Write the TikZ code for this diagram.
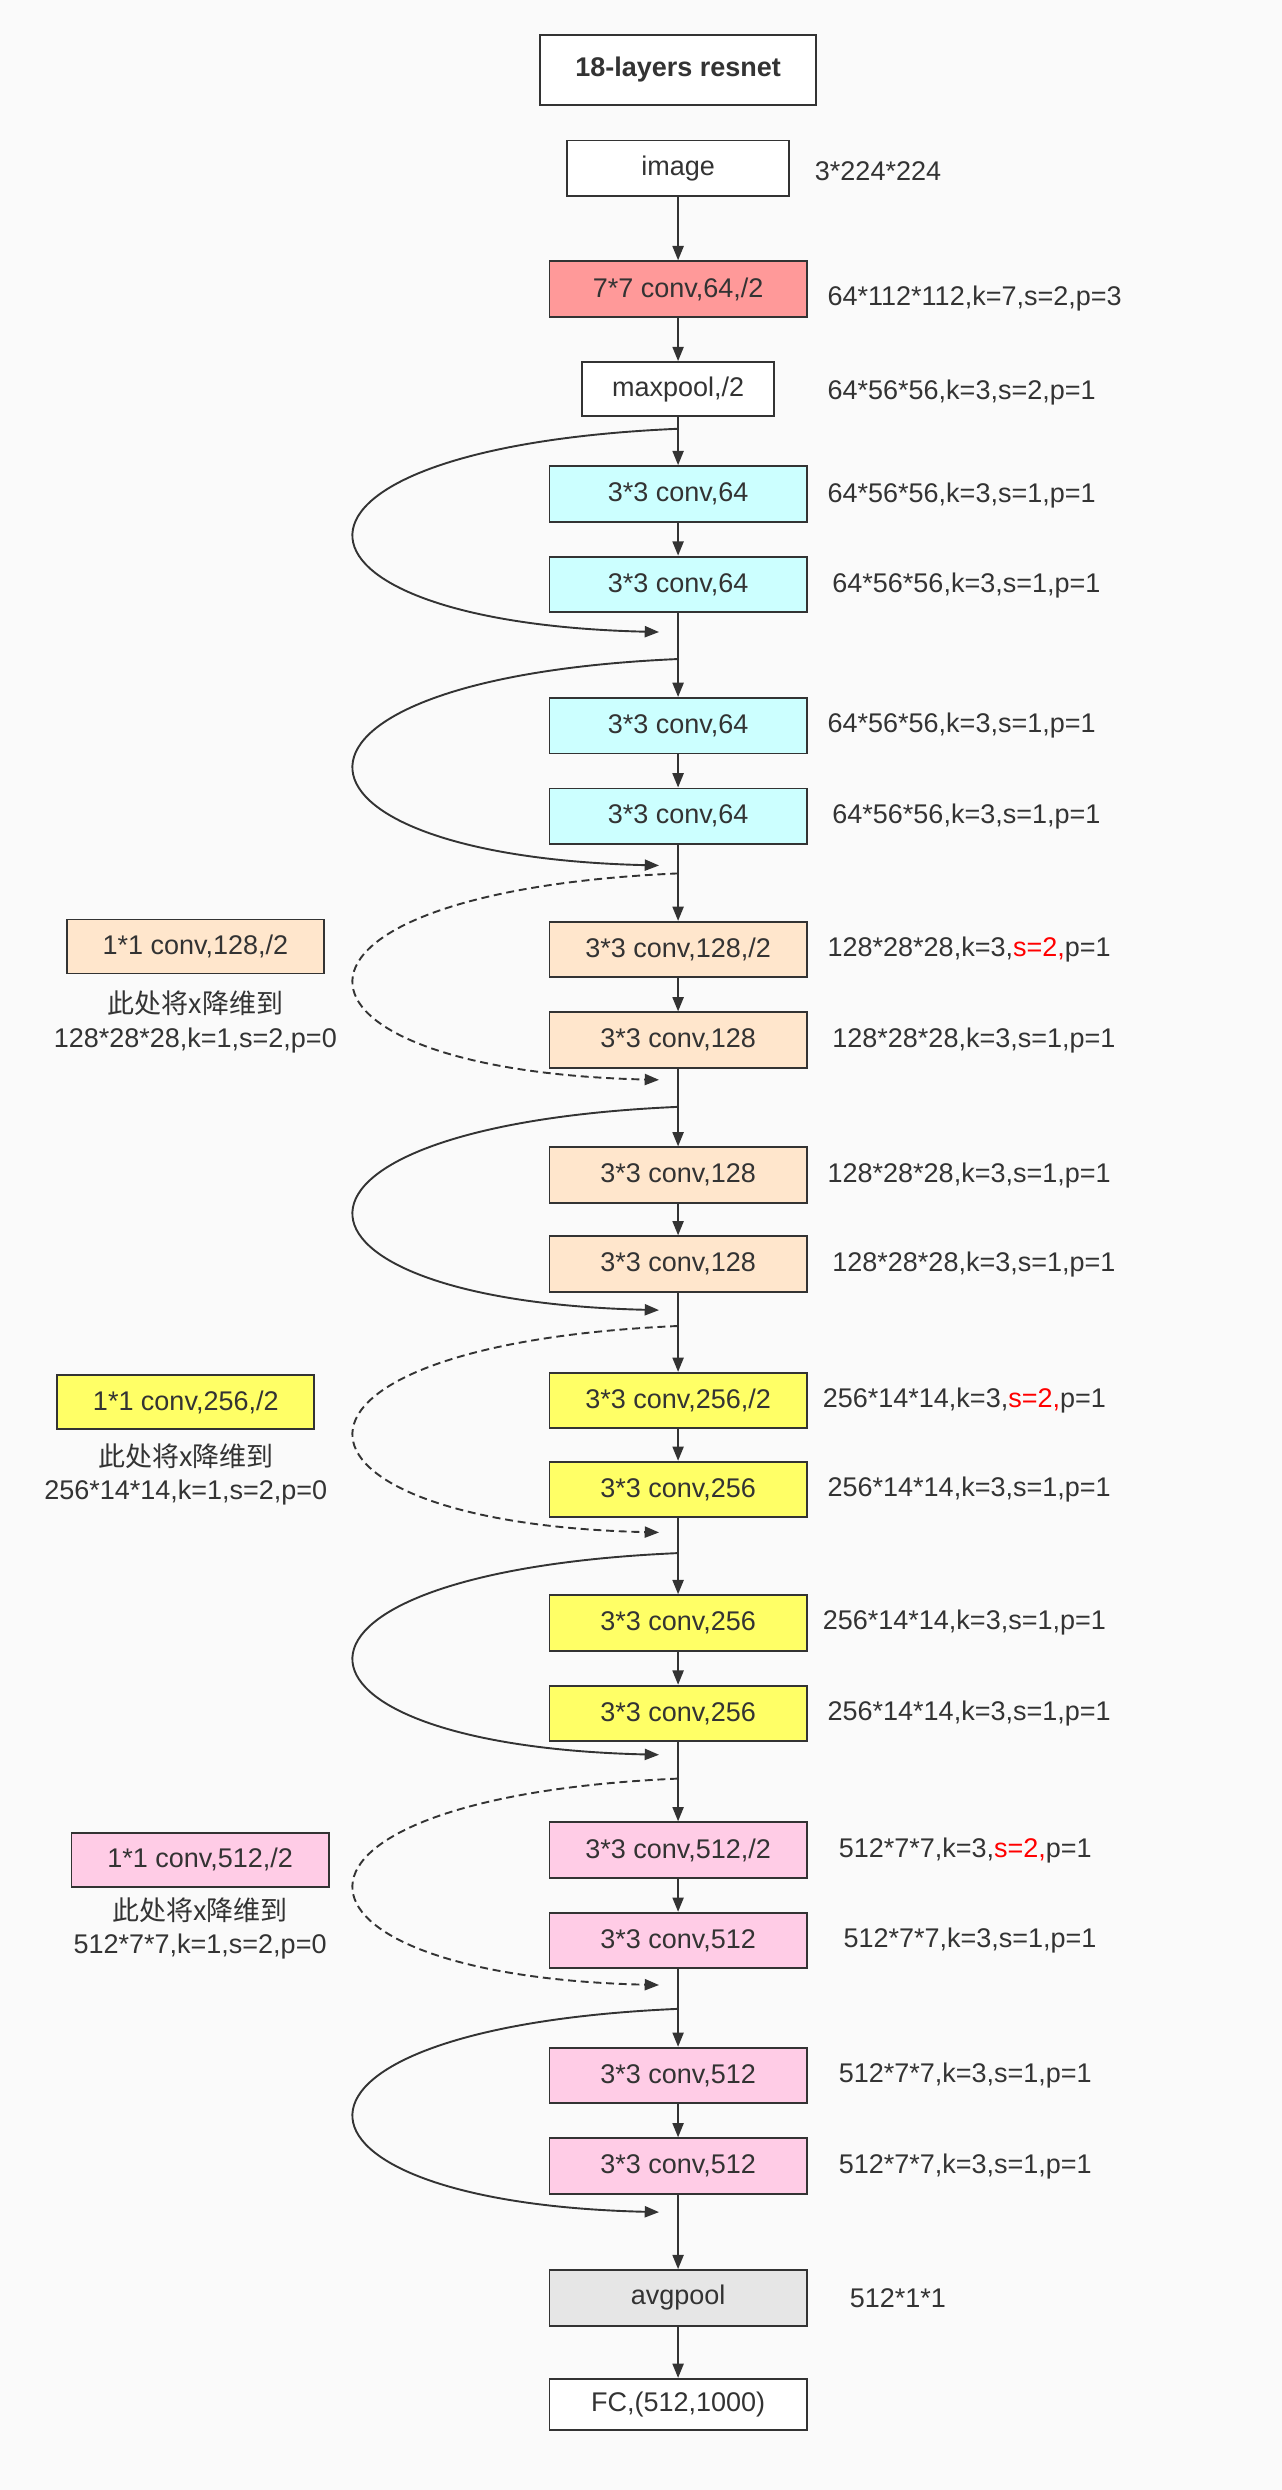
\documentclass[tikz,border=0pt]{standalone}
\usepackage{fontspec}
\setmainfont{Liberation Sans}
\newfontfamily\cjk{Noto Sans CJK SC}
\usetikzlibrary{arrows.meta}
\definecolor{bg}{HTML}{FAFAFA}
\definecolor{cred}{HTML}{FF9999}
\definecolor{ccyan}{HTML}{CCFFFF}
\definecolor{cpeach}{HTML}{FFE6CC}
\definecolor{cyel}{HTML}{FFFF66}
\definecolor{cpink}{HTML}{FFCCE6}
\definecolor{cgray}{HTML}{E6E6E6}
\definecolor{ink}{HTML}{333333}
\begin{document}
\begin{tikzpicture}[x=1pt,y=-1pt,
  font=\fontsize{17}{20}\selectfont, text=ink,
  blk/.style={draw=ink, line width=1.2pt, minimum width=162pt, minimum height=35pt, inner sep=0pt},
  lbl/.style={anchor=west, inner sep=0pt},
  arr/.style={-{Triangle[length=9pt,width=7pt]}, draw=ink, line width=1.2pt},
  skip/.style={arr},
  dskip/.style={arr, dashed, dash pattern=on 5pt off 3pt}]
\fill[bg] (0,0) rectangle (807,1568);
\useasboundingbox (0,0) rectangle (807,1568);
\node[blk, minimum width=174pt, minimum height=44pt, font=\fontsize{17}{20}\selectfont\bfseries, fill=white] (title) at (427,44) {18-layers resnet};
\node[blk, minimum width=140pt, fill=white] (img) at (427,106) {image};
\node[lbl] (limg) at (513,108) {3*224*224};
\node[blk, fill=cred] (c7) at (427,182) {7*7 conv,64,/2};
\node[lbl] (lc7) at (521,188) {64*112*112,k=7,s=2,p=3};
\node[blk, minimum width=121pt, minimum height=34pt, fill=white] (mp) at (427,245) {maxpool,/2};
\node[lbl] (lmp) at (521,247) {64*56*56,k=3,s=2,p=1};
\node[blk, fill=ccyan] (a1) at (427,311) {3*3 conv,64};
\node[lbl] at (521,312) {64*56*56,k=3,s=1,p=1};
\node[blk, fill=ccyan] (a2) at (427,368) {3*3 conv,64};
\node[lbl] at (524,369) {64*56*56,k=3,s=1,p=1};
\node[blk, fill=ccyan] (a3) at (427,457) {3*3 conv,64};
\node[lbl] at (521,457) {64*56*56,k=3,s=1,p=1};
\node[blk, fill=ccyan] (a4) at (427,514) {3*3 conv,64};
\node[lbl] at (524,514) {64*56*56,k=3,s=1,p=1};
\node[blk, fill=cpeach] (b1) at (427,598) {3*3 conv,128,/2};
\node[lbl] at (521,598) {128*28*28,k=3,\textcolor{red}{s=2,}p=1};
\node[blk, fill=cpeach] (b2) at (427,655) {3*3 conv,128};
\node[lbl] at (524,655) {128*28*28,k=3,s=1,p=1};
\node[blk, fill=cpeach] (b3) at (427,740) {3*3 conv,128};
\node[lbl] at (521,740) {128*28*28,k=3,s=1,p=1};
\node[blk, fill=cpeach] (b4) at (427,796) {3*3 conv,128};
\node[lbl] at (524,796) {128*28*28,k=3,s=1,p=1};
\node[blk, fill=cyel] (d1) at (427,882) {3*3 conv,256,/2};
\node[lbl] at (518,882) {256*14*14,k=3,\textcolor{red}{s=2,}p=1};
\node[blk, fill=cyel] (d2) at (427,938) {3*3 conv,256};
\node[lbl] at (521,938) {256*14*14,k=3,s=1,p=1};
\node[blk, fill=cyel] (d3) at (427,1022) {3*3 conv,256};
\node[lbl] at (518,1022) {256*14*14,k=3,s=1,p=1};
\node[blk, fill=cyel] (d4) at (427,1079) {3*3 conv,256};
\node[lbl] at (521,1079) {256*14*14,k=3,s=1,p=1};
\node[blk, fill=cpink] (e1) at (427,1165) {3*3 conv,512,/2};
\node[lbl] at (528,1165) {512*7*7,k=3,\textcolor{red}{s=2,}p=1};
\node[blk, fill=cpink] (e2) at (427,1222) {3*3 conv,512};
\node[lbl] at (531,1222) {512*7*7,k=3,s=1,p=1};
\node[blk, fill=cpink] (e3) at (427,1307) {3*3 conv,512};
\node[lbl] at (528,1307) {512*7*7,k=3,s=1,p=1};
\node[blk, fill=cpink] (e4) at (427,1364) {3*3 conv,512};
\node[lbl] at (528,1364) {512*7*7,k=3,s=1,p=1};
\node[blk, fill=cgray] (avg) at (427,1447) {avgpool};
\node[lbl] at (535,1447) {512*1*1};
\node[blk, minimum height=32pt, fill=white] (fc) at (427,1514) {FC,(512,1000)};
% side notes
\node[blk, minimum height=34pt, fill=cpeach] (p1) at (123,596) {1*1 conv,128,/2};
\node[inner sep=0pt] (p1a) at (123,632) {\cjk 此处将x降维到};
\node[inner sep=0pt] (p1b) at (123,655) {128*28*28,k=1,s=2,p=0};
\node[blk, minimum height=34pt, fill=cyel] (p2) at (117,883) {1*1 conv,256,/2};
\node[inner sep=0pt] (p2a) at (117,917) {\cjk 此处将x降维到};
\node[inner sep=0pt] (p2b) at (117,940) {256*14*14,k=1,s=2,p=0};
\node[blk, minimum height=34pt, fill=cpink] (p3) at (126,1171) {1*1 conv,512,/2};
\node[inner sep=0pt] (p3a) at (126,1203) {\cjk 此处将x降维到};
\node[inner sep=0pt] (p3b) at (126,1226) {512*7*7,k=1,s=2,p=0};
% main chain
\foreach \u/\v in {img/c7,c7/mp,mp/a1,a1/a2,a2/a3,a3/a4,a4/b1,b1/b2,b2/b3,b3/b4,b4/d1,d1/d2,d2/d3,d3/d4,d4/e1,e1/e2,e2/e3,e3/e4,e4/avg,avg/fc}
  \draw[arr] (\u) -- (\v);
% skip connections
\coordinate (s1) at (427,270); \coordinate (t1) at (415,398);
\coordinate (s2) at (427,415); \coordinate (t2) at (415,545);
\coordinate (s3) at (427,550); \coordinate (t3) at (415,680);
\coordinate (s4) at (427,697); \coordinate (t4) at (415,825);
\coordinate (s5) at (427,835); \coordinate (t5) at (415,965);
\coordinate (s6) at (427,978); \coordinate (t6) at (415,1105);
\coordinate (s7) at (427,1120); \coordinate (t7) at (415,1250);
\coordinate (s8) at (427,1265); \coordinate (t8) at (415,1393);
\draw[skip]  (s1) .. controls (152,282) and (162,392) .. (t1);
\draw[skip]  (s2) .. controls (152,427) and (162,539) .. (t2);
\draw[dskip] (s3) .. controls (152,562) and (162,674) .. (t3);
\draw[skip]  (s4) .. controls (152,709) and (162,819) .. (t4);
\draw[dskip] (s5) .. controls (152,847) and (162,959) .. (t5);
\draw[skip]  (s6) .. controls (152,990) and (162,1099) .. (t6);
\draw[dskip] (s7) .. controls (152,1132) and (162,1244) .. (t7);
\draw[skip]  (s8) .. controls (152,1277) and (162,1387) .. (t8);
\end{tikzpicture}
\end{document}
